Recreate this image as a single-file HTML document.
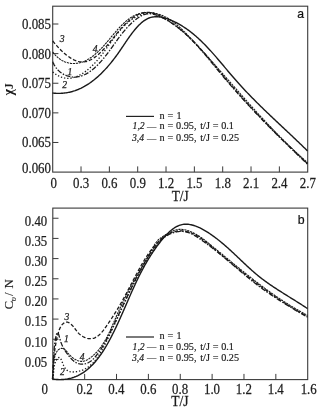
<!DOCTYPE html>
<html lang="en"><head><meta charset="utf-8"><title>Figure</title>
<style>html,body{margin:0;padding:0;background:#fff}svg{display:block}</style></head>
<body>
<svg width="320" height="412" viewBox="0 0 320 412">
<rect width="320" height="412" fill="#fff"/>
<rect x="52.7" y="6.2" width="255" height="165.9" fill="none" stroke="#3a3a3a" stroke-width="1.1"/>
<rect x="52.8" y="208.1" width="254.9" height="171.5" fill="none" stroke="#3a3a3a" stroke-width="1.1"/>
<path d="M81.03 172.10 v-5.7 M109.37 172.10 v-5.7 M137.70 172.10 v-5.7 M166.03 172.10 v-5.7 M194.37 172.10 v-5.7 M222.70 172.10 v-5.7 M251.03 172.10 v-5.7 M279.37 172.10 v-5.7 M52.70 142.48 h5.7 M52.70 112.86 h5.7 M52.70 83.24 h5.7 M52.70 53.62 h5.7 M52.70 24.00 h5.7 M84.66 379.60 v-5.7 M116.52 379.60 v-5.7 M148.39 379.60 v-5.7 M180.25 379.60 v-5.7 M212.11 379.60 v-5.7 M243.97 379.60 v-5.7 M275.84 379.60 v-5.7 M52.80 359.43 h5.7 M52.80 339.26 h5.7 M52.80 319.09 h5.7 M52.80 298.92 h5.7 M52.80 278.75 h5.7 M52.80 258.58 h5.7 M52.80 238.41 h5.7 M52.80 218.24 h5.7" stroke="#3a3a3a" stroke-width="1" fill="none"/>
<g font-family="'Liberation Serif', serif" font-size="15" fill="#1c1c1c" stroke="#1c1c1c" stroke-width="0.25">
<text transform="translate(51.00 172.90) scale(0.86 1)" text-anchor="end">0.060</text>
<text transform="translate(51.00 147.38) scale(0.86 1)" text-anchor="end">0.065</text>
<text transform="translate(51.00 117.76) scale(0.86 1)" text-anchor="end">0.070</text>
<text transform="translate(51.00 88.14) scale(0.86 1)" text-anchor="end">0.075</text>
<text transform="translate(51.00 58.52) scale(0.86 1)" text-anchor="end">0.080</text>
<text transform="translate(51.00 28.90) scale(0.86 1)" text-anchor="end">0.085</text>
<text transform="translate(53.60 188.10) scale(0.86 1)" text-anchor="middle">0</text>
<text transform="translate(81.13 188.10) scale(0.86 1)" text-anchor="middle">0.3</text>
<text transform="translate(109.47 188.10) scale(0.86 1)" text-anchor="middle">0.6</text>
<text transform="translate(137.80 188.10) scale(0.86 1)" text-anchor="middle">0.9</text>
<text transform="translate(166.13 188.10) scale(0.86 1)" text-anchor="middle">1.2</text>
<text transform="translate(194.47 188.10) scale(0.86 1)" text-anchor="middle">1.5</text>
<text transform="translate(222.80 188.10) scale(0.86 1)" text-anchor="middle">1.8</text>
<text transform="translate(251.13 188.10) scale(0.86 1)" text-anchor="middle">2.1</text>
<text transform="translate(279.47 188.10) scale(0.86 1)" text-anchor="middle">2.4</text>
<text transform="translate(307.80 188.10) scale(0.86 1)" text-anchor="middle">2.7</text>
<text transform="translate(47.20 366.73) scale(0.9 1)" text-anchor="end" font-size="14.2">0.05</text>
<text transform="translate(47.20 346.56) scale(0.9 1)" text-anchor="end" font-size="14.2">0.10</text>
<text transform="translate(47.20 326.39) scale(0.9 1)" text-anchor="end" font-size="14.2">0.15</text>
<text transform="translate(47.20 306.22) scale(0.9 1)" text-anchor="end" font-size="14.2">0.20</text>
<text transform="translate(47.20 286.05) scale(0.9 1)" text-anchor="end" font-size="14.2">0.25</text>
<text transform="translate(47.20 265.88) scale(0.9 1)" text-anchor="end" font-size="14.2">0.30</text>
<text transform="translate(47.20 245.71) scale(0.9 1)" text-anchor="end" font-size="14.2">0.35</text>
<text transform="translate(47.20 225.54) scale(0.9 1)" text-anchor="end" font-size="14.2">0.40</text>
<text transform="translate(44.80 393.90) scale(0.86 1)" text-anchor="middle">0</text>
<text transform="translate(84.56 393.90) scale(0.86 1)" text-anchor="middle">0.2</text>
<text transform="translate(116.42 393.90) scale(0.86 1)" text-anchor="middle">0.4</text>
<text transform="translate(148.29 393.90) scale(0.86 1)" text-anchor="middle">0.6</text>
<text transform="translate(180.15 393.90) scale(0.86 1)" text-anchor="middle">0.8</text>
<text transform="translate(212.01 393.90) scale(0.86 1)" text-anchor="middle">1.0</text>
<text transform="translate(243.87 393.90) scale(0.86 1)" text-anchor="middle">1.2</text>
<text transform="translate(275.74 393.90) scale(0.86 1)" text-anchor="middle">1.4</text>
<text transform="translate(308.70 393.90) scale(0.86 1)" text-anchor="middle">1.6</text>
<text transform="translate(180.2 200.6) scale(0.96 1)" text-anchor="middle" font-size="13.8">T/J</text>
<text transform="translate(179.9 405.9) scale(0.95 1)" text-anchor="middle" font-size="14.3">T/J</text>
<text transform="translate(12.6 95.5) rotate(-90)" font-size="14" font-weight="bold" stroke="none">χ<tspan font-size="11.5">J</tspan></text>
<text transform="translate(13.3 309.2) rotate(-90)" font-size="12.6" stroke-width="0.12"><tspan x="0">C</tspan><tspan font-size="9" x="7.9" dy="2.5" font-style="italic">υ</tspan><tspan x="13.2" dy="-2.5">/</tspan><tspan x="20.6" font-size="13">N</tspan></text>
</g>
<g font-family="'Liberation Sans', sans-serif" font-size="14" fill="#111">
<text x="297.2" y="18.4" font-size="12.2" stroke="#111" stroke-width="0.2">a</text><text x="297.7" y="223.9" font-size="12.3" stroke="#111" stroke-width="0.2">b</text>
</g>
<g font-family="'Liberation Serif', serif" font-size="10.2" fill="#1c1c1c" stroke="#1c1c1c" stroke-width="0.18">
<path d="M126 116.4 H154" stroke="#222" stroke-width="1.2"/>
<text transform="translate(0 118.6) scale(1 1.07)"><tspan x="159.4">n</tspan><tspan x="167.6">=</tspan><tspan x="176.6">1</tspan></text>
<text transform="translate(0 129.3) scale(1 1.07)" x="132.6" font-style="italic" font-size="9.7">1,2</text>
<text transform="translate(0 129.3) scale(1 1.07)"><tspan x="147" font-size="9.3" dy="0.6">—</tspan><tspan x="159.4" dy="-0.6">n</tspan><tspan x="167.6">=</tspan><tspan x="176.1">0.95,</tspan><tspan x="200.3">t/J</tspan><tspan x="212.8">=</tspan><tspan x="221.2">0.1</tspan></text>
<text transform="translate(0 141.2) scale(1 1.07)" x="132" font-style="italic" font-size="9.7">3,4</text>
<text transform="translate(0 141.2) scale(1 1.07)"><tspan x="147" font-size="9.3" dy="0.6">—</tspan><tspan x="159.4" dy="-0.6">n</tspan><tspan x="167.6">=</tspan><tspan x="176.1">0.95,</tspan><tspan x="200.3">t/J</tspan><tspan x="212.8">=</tspan><tspan x="221.2">0.25</tspan></text>
</g>
<g font-family="'Liberation Serif', serif" font-size="10.2" fill="#1c1c1c" stroke="#1c1c1c" stroke-width="0.18">
<path d="M126 337 H154" stroke="#222" stroke-width="1.2"/>
<text transform="translate(0 339.2) scale(1 1.07)"><tspan x="159.4">n</tspan><tspan x="167.6">=</tspan><tspan x="176.6">1</tspan></text>
<text transform="translate(0 349.8) scale(1 1.07)" x="132.6" font-style="italic" font-size="9.7">1,2</text>
<text transform="translate(0 349.8) scale(1 1.07)"><tspan x="147" font-size="9.3" dy="0.6">—</tspan><tspan x="159.4" dy="-0.6">n</tspan><tspan x="167.6">=</tspan><tspan x="176.1">0.95,</tspan><tspan x="200.3">t/J</tspan><tspan x="212.8">=</tspan><tspan x="221.2">0.1</tspan></text>
<text transform="translate(0 360.5) scale(1 1.07)" x="132" font-style="italic" font-size="9.7">3,4</text>
<text transform="translate(0 360.5) scale(1 1.07)"><tspan x="147" font-size="9.3" dy="0.6">—</tspan><tspan x="159.4" dy="-0.6">n</tspan><tspan x="167.6">=</tspan><tspan x="176.1">0.95,</tspan><tspan x="200.3">t/J</tspan><tspan x="212.8">=</tspan><tspan x="221.2">0.25</tspan></text>
</g>
<g fill="none" stroke="#1a1a1a" stroke-linecap="butt" stroke-linejoin="round">
<path d="M52.50 93.00 L53.50 93.11 L54.49 93.21 L55.49 93.28 L56.49 93.34 L57.50 93.37 L58.50 93.39 L59.50 93.38 L60.50 93.36 L61.50 93.31 L62.50 93.24 L63.50 93.16 L64.50 93.05 L65.49 92.92 L66.49 92.78 L67.47 92.61 L68.46 92.42 L69.44 92.21 L70.42 91.99 L71.39 91.74 L72.35 91.48 L73.32 91.19 L74.27 90.89 L75.22 90.57 L76.16 90.23 L77.10 89.87 L78.03 89.50 L78.95 89.11 L79.87 88.70 L80.78 88.28 L81.68 87.84 L82.58 87.39 L83.46 86.92 L84.34 86.44 L85.21 85.94 L86.08 85.43 L86.93 84.91 L87.78 84.37 L88.62 83.83 L89.45 83.27 L90.27 82.70 L91.09 82.12 L91.90 81.52 L92.70 80.92 L93.49 80.31 L94.28 79.69 L95.06 79.05 L95.83 78.41 L96.59 77.76 L97.35 77.11 L98.10 76.44 L98.84 75.77 L99.58 75.09 L100.31 74.40 L101.03 73.70 L101.74 73.00 L102.45 72.29 L103.15 71.58 L103.85 70.85 L104.54 70.13 L105.22 69.39 L105.90 68.65 L106.57 67.91 L107.24 67.16 L107.90 66.41 L108.55 65.65 L109.20 64.88 L109.85 64.12 L110.49 63.34 L111.12 62.57 L111.75 61.79 L112.37 61.00 L112.99 60.21 L113.60 59.42 L114.21 58.62 L114.82 57.83 L115.42 57.02 L116.02 56.22 L116.61 55.41 L117.20 54.60 L117.78 53.78 L118.36 52.97 L118.94 52.15 L119.51 51.32 L120.08 50.50 L120.65 49.67 L121.21 48.84 L121.77 48.01 L122.33 47.18 L122.89 46.35 L123.45 45.52 L124.01 44.68 L124.57 43.85 L125.12 43.02 L125.68 42.19 L126.25 41.36 L126.81 40.53 L127.38 39.70 L127.95 38.88 L128.53 38.06 L129.10 37.24 L129.69 36.42 L130.28 35.61 L130.87 34.80 L131.47 34.00 L132.07 33.20 L132.69 32.41 L133.30 31.62 L133.93 30.83 L134.56 30.05 L135.20 29.28 L135.85 28.52 L136.51 27.76 L137.18 27.02 L137.86 26.28 L138.55 25.56 L139.25 24.84 L139.97 24.14 L140.70 23.46 L141.45 22.79 L142.22 22.15 L143.00 21.52 L143.80 20.92 L144.63 20.35 L145.47 19.80 L146.33 19.29 L147.21 18.82 L148.12 18.39 L149.04 18.00 L149.99 17.67 L150.95 17.39 L151.93 17.16 L152.91 16.98 L153.91 16.84 L154.91 16.76 L155.91 16.72 L156.91 16.72 L157.91 16.77 L158.91 16.85 L159.91 16.97 L160.90 17.12 L161.88 17.30 L162.86 17.51 L163.84 17.74 L164.80 18.00 L165.77 18.29 L166.72 18.59 L167.67 18.92 L168.61 19.26 L169.55 19.62 L170.48 19.99 L171.40 20.38 L172.32 20.78 L173.23 21.19 L174.14 21.62 L175.04 22.05 L175.94 22.50 L176.83 22.96 L177.72 23.43 L178.60 23.91 L179.47 24.40 L180.34 24.90 L181.20 25.41 L182.06 25.94 L182.91 26.47 L183.75 27.01 L184.59 27.56 L185.42 28.12 L186.25 28.68 L187.07 29.26 L187.89 29.84 L188.69 30.43 L189.50 31.03 L190.29 31.64 L191.09 32.26 L191.87 32.88 L192.65 33.51 L193.43 34.14 L194.20 34.78 L194.96 35.43 L195.72 36.09 L196.48 36.75 L197.23 37.41 L197.97 38.08 L198.71 38.76 L199.45 39.44 L200.18 40.13 L200.90 40.82 L201.62 41.52 L202.34 42.22 L203.05 42.92 L203.76 43.63 L204.47 44.34 L205.17 45.06 L205.87 45.78 L206.56 46.50 L207.25 47.23 L207.94 47.96 L208.63 48.69 L209.31 49.42 L209.98 50.16 L210.66 50.90 L211.33 51.65 L212.00 52.39 L212.67 53.14 L213.34 53.89 L214.00 54.64 L214.66 55.39 L215.32 56.15 L215.98 56.91 L216.63 57.66 L217.29 58.42 L217.94 59.19 L218.59 59.95 L219.24 60.71 L219.89 61.48 L220.54 62.24 L221.18 63.01 L221.83 63.77 L222.47 64.54 L223.12 65.31 L223.76 66.07 L224.41 66.84 L225.05 67.61 L225.70 68.38 L226.34 69.15 L226.99 69.91 L227.63 70.68 L228.28 71.45 L228.92 72.21 L229.57 72.98 L230.22 73.74 L230.87 74.51 L231.52 75.27 L232.17 76.03 L232.82 76.79 L233.48 77.55 L234.13 78.31 L234.79 79.07 L235.45 79.82 L236.11 80.57 L236.78 81.33 L237.44 82.08 L238.11 82.82 L238.78 83.57 L239.45 84.31 L240.12 85.06 L240.80 85.80 L241.48 86.54 L242.16 87.27 L242.84 88.01 L243.52 88.74 L244.20 89.47 L244.89 90.21 L245.58 90.94 L246.27 91.66 L246.96 92.39 L247.65 93.11 L248.34 93.84 L249.04 94.56 L249.74 95.28 L250.44 96.00 L251.14 96.72 L251.84 97.43 L252.54 98.15 L253.24 98.86 L253.95 99.57 L254.65 100.29 L255.36 101.00 L256.07 101.70 L256.78 102.41 L257.49 103.12 L258.20 103.82 L258.92 104.53 L259.63 105.23 L260.35 105.93 L261.06 106.64 L261.78 107.34 L262.50 108.04 L263.22 108.73 L263.94 109.43 L264.66 110.13 L265.38 110.82 L266.10 111.52 L266.82 112.21 L267.55 112.91 L268.27 113.60 L269.00 114.29 L269.72 114.99 L270.45 115.68 L271.17 116.37 L271.90 117.06 L272.63 117.75 L273.36 118.44 L274.08 119.13 L274.81 119.81 L275.54 120.50 L276.27 121.19 L277.00 121.88 L277.73 122.56 L278.46 123.25 L279.19 123.94 L279.92 124.63 L280.65 125.31 L281.38 126.00 L282.11 126.68 L282.84 127.37 L283.57 128.06 L284.31 128.74 L285.04 129.43 L285.77 130.12 L286.50 130.80 L287.23 131.49 L287.96 132.18 L288.69 132.86 L289.42 133.55 L290.15 134.24 L290.88 134.93 L291.60 135.61 L292.33 136.30 L293.06 136.99 L293.79 137.68 L294.52 138.37 L295.24 139.06 L295.97 139.75 L296.69 140.44 L297.42 141.14 L298.14 141.83 L298.87 142.52 L299.59 143.22 L300.31 143.91 L301.04 144.61 L301.76 145.30 L302.48 146.00 L303.20 146.70 L303.92 147.40 L304.64 148.09 L305.35 148.79 L306.07 149.50 L306.79 150.20 L307.50 150.90" stroke-width="1.4"/>
<path d="M52.80 41.00 L53.42 41.78 L54.06 42.56 L54.69 43.33 L55.34 44.10 L55.99 44.86 L56.65 45.61 L57.32 46.36 L57.99 47.10 L58.67 47.83 L59.36 48.56 L60.06 49.28 L60.76 49.99 L61.48 50.69 L62.20 51.38 L62.93 52.06 L63.68 52.74 L64.43 53.40 L65.19 54.05 L65.96 54.68 L66.75 55.31 L67.54 55.91 L68.35 56.51 L69.17 57.08 L70.00 57.64 L70.85 58.17 L71.71 58.68 L72.58 59.17 L73.47 59.63 L74.38 60.06 L75.30 60.46 L76.23 60.82 L77.18 61.14 L78.14 61.41 L79.12 61.64 L80.10 61.81 L81.10 61.92 L82.10 61.97 L83.10 61.95 L84.10 61.86 L85.09 61.72 L86.07 61.52 L87.03 61.26 L87.99 60.95 L88.92 60.59 L89.84 60.20 L90.75 59.76 L91.63 59.30 L92.50 58.80 L93.35 58.27 L94.18 57.72 L95.00 57.14 L95.81 56.55 L96.60 55.93 L97.38 55.30 L98.14 54.65 L98.89 53.99 L99.63 53.32 L100.36 52.63 L101.08 51.94 L101.79 51.23 L102.49 50.52 L103.19 49.79 L103.87 49.06 L104.55 48.32 L105.22 47.58 L105.88 46.83 L106.54 46.08 L107.19 45.32 L107.84 44.55 L108.48 43.79 L109.12 43.02 L109.76 42.24 L110.39 41.47 L111.02 40.69 L111.65 39.91 L112.28 39.13 L112.90 38.35 L113.53 37.57 L114.15 36.78 L114.78 36.00 L115.41 35.22 L116.04 34.44 L116.67 33.67 L117.30 32.89 L117.94 32.12 L118.58 31.35 L119.23 30.59 L119.89 29.83 L120.54 29.08 L121.21 28.33 L121.88 27.59 L122.56 26.85 L123.25 26.13 L123.95 25.41 L124.66 24.70 L125.37 24.00 L126.09 23.30 L126.82 22.62 L127.57 21.95 L128.32 21.29 L129.08 20.63 L129.85 19.99 L130.63 19.36 L131.42 18.75 L132.22 18.15 L133.03 17.57 L133.86 17.00 L134.70 16.45 L135.55 15.93 L136.41 15.43 L137.29 14.95 L138.19 14.50 L139.10 14.08 L140.02 13.70 L140.96 13.35 L141.92 13.05 L142.89 12.80 L143.87 12.59 L144.86 12.45 L145.85 12.36 L146.85 12.32 L147.86 12.34 L148.85 12.40 L149.85 12.52 L150.84 12.68 L151.82 12.88 L152.79 13.11 L153.75 13.39 L154.71 13.69 L155.65 14.02 L156.59 14.38 L157.51 14.77 L158.43 15.17 L159.34 15.59 L160.23 16.03 L161.13 16.49 L162.01 16.96 L162.89 17.44 L163.76 17.94 L164.62 18.44 L165.49 18.95 L166.34 19.47 L167.20 19.99 L168.04 20.52 L168.89 21.06 L169.73 21.61 L170.56 22.16 L171.39 22.73 L172.21 23.29 L173.03 23.87 L173.85 24.45 L174.66 25.04 L175.46 25.63 L176.26 26.23 L177.06 26.84 L177.85 27.45 L178.64 28.07 L179.42 28.70 L180.20 29.33 L180.98 29.96 L181.74 30.60 L182.51 31.25 L183.27 31.90 L184.03 32.56 L184.78 33.22 L185.53 33.88 L186.27 34.55 L187.01 35.23 L187.75 35.91 L188.48 36.59 L189.21 37.28 L189.93 37.97 L190.65 38.66 L191.37 39.36 L192.08 40.07 L192.79 40.77 L193.50 41.48 L194.20 42.19 L194.90 42.91 L195.59 43.63 L196.29 44.35 L196.98 45.08 L197.66 45.81 L198.35 46.54 L199.03 47.27 L199.71 48.01 L200.38 48.75 L201.06 49.49 L201.73 50.23 L202.40 50.98 L203.06 51.72 L203.73 52.47 L204.39 53.23 L205.05 53.98 L205.71 54.73 L206.36 55.49 L207.02 56.25 L207.67 57.01 L208.32 57.77 L208.97 58.53 L209.61 59.30 L210.26 60.06 L210.91 60.83 L211.55 61.59 L212.19 62.36 L212.83 63.13 L213.47 63.90 L214.11 64.67 L214.75 65.44 L215.39 66.21 L216.03 66.98 L216.67 67.76 L217.30 68.53 L217.94 69.30 L218.58 70.07 L219.21 70.85 L219.85 71.62 L220.49 72.39 L221.12 73.17 L221.76 73.94 L222.40 74.71 L223.03 75.48 L223.67 76.25 L224.31 77.03 L224.95 77.80 L225.59 78.57 L226.23 79.33 L226.87 80.10 L227.52 80.87 L228.16 81.64 L228.81 82.40 L229.45 83.17 L230.10 83.93 L230.75 84.69 L231.40 85.45 L232.05 86.21 L232.70 86.97 L233.36 87.73 L234.01 88.49 L234.67 89.25 L235.32 90.00 L235.98 90.76 L236.64 91.51 L237.30 92.27 L237.96 93.02 L238.62 93.77 L239.29 94.52 L239.95 95.27 L240.62 96.02 L241.28 96.76 L241.95 97.51 L242.62 98.26 L243.29 99.00 L243.96 99.74 L244.63 100.49 L245.30 101.23 L245.97 101.97 L246.65 102.71 L247.32 103.45 L248.00 104.19 L248.68 104.93 L249.35 105.66 L250.03 106.40 L250.71 107.13 L251.39 107.87 L252.07 108.60 L252.76 109.33 L253.44 110.07 L254.13 110.80 L254.81 111.53 L255.50 112.26 L256.18 112.98 L256.87 113.71 L257.56 114.44 L258.25 115.17 L258.94 115.89 L259.63 116.61 L260.32 117.34 L261.02 118.06 L261.71 118.78 L262.41 119.50 L263.10 120.22 L263.80 120.94 L264.49 121.66 L265.19 122.38 L265.89 123.10 L266.59 123.81 L267.29 124.53 L267.99 125.25 L268.69 125.96 L269.39 126.67 L270.10 127.39 L270.80 128.10 L271.51 128.81 L272.21 129.52 L272.92 130.23 L273.62 130.94 L274.33 131.65 L275.04 132.36 L275.75 133.06 L276.46 133.77 L277.17 134.48 L277.88 135.18 L278.59 135.89 L279.30 136.59 L280.01 137.29 L280.73 138.00 L281.44 138.70 L282.16 139.40 L282.87 140.10 L283.59 140.80 L284.30 141.50 L285.02 142.20 L285.74 142.90 L286.46 143.59 L287.17 144.29 L287.89 144.99 L288.61 145.68 L289.33 146.38 L290.05 147.07 L290.78 147.77 L291.50 148.46 L292.22 149.16 L292.94 149.85 L293.67 150.54 L294.39 151.23 L295.11 151.92 L295.84 152.61 L296.57 153.30 L297.29 153.99 L298.02 154.68 L298.74 155.37 L299.47 156.06 L300.20 156.75 L300.93 157.44 L301.66 158.12 L302.39 158.81 L303.11 159.49 L303.84 160.18 L304.57 160.86 L305.31 161.55 L306.04 162.23 L306.77 162.92 L307.50 163.60" stroke-width="1.3" stroke-dasharray="3.6 1.9"/>
<path d="M52.80 52.00 L53.40 52.80 L54.02 53.59 L54.66 54.36 L55.32 55.10 L56.02 55.83 L56.73 56.53 L57.47 57.20 L58.23 57.85 L59.01 58.47 L59.82 59.06 L60.65 59.62 L61.50 60.15 L62.37 60.64 L63.26 61.10 L64.17 61.52 L65.10 61.90 L66.04 62.24 L66.99 62.54 L67.96 62.80 L68.93 63.02 L69.92 63.20 L70.91 63.34 L71.91 63.44 L72.91 63.49 L73.91 63.51 L74.91 63.48 L75.90 63.42 L76.90 63.31 L77.89 63.17 L78.87 62.99 L79.85 62.77 L80.82 62.52 L81.78 62.23 L82.72 61.91 L83.66 61.55 L84.58 61.17 L85.49 60.75 L86.39 60.31 L87.27 59.84 L88.14 59.35 L89.00 58.83 L89.85 58.29 L90.68 57.73 L91.49 57.16 L92.30 56.56 L93.09 55.95 L93.88 55.33 L94.65 54.69 L95.41 54.04 L96.16 53.38 L96.90 52.71 L97.63 52.03 L98.35 51.33 L99.07 50.63 L99.78 49.93 L100.48 49.21 L101.17 48.49 L101.86 47.76 L102.54 47.03 L103.21 46.29 L103.89 45.55 L104.55 44.80 L105.21 44.05 L105.87 43.30 L106.53 42.54 L107.18 41.78 L107.83 41.02 L108.48 40.26 L109.12 39.50 L109.77 38.73 L110.41 37.97 L111.06 37.20 L111.70 36.43 L112.35 35.67 L112.99 34.90 L113.64 34.14 L114.29 33.38 L114.94 32.62 L115.60 31.86 L116.25 31.11 L116.91 30.36 L117.58 29.61 L118.25 28.87 L118.93 28.13 L119.61 27.40 L120.30 26.67 L120.99 25.95 L121.69 25.24 L122.41 24.54 L123.12 23.84 L123.85 23.15 L124.59 22.48 L125.34 21.81 L126.10 21.16 L126.87 20.52 L127.65 19.90 L128.44 19.29 L129.25 18.70 L130.07 18.12 L130.90 17.57 L131.75 17.04 L132.61 16.53 L133.49 16.04 L134.38 15.59 L135.28 15.16 L136.20 14.75 L137.13 14.38 L138.07 14.05 L139.02 13.74 L139.99 13.48 L140.96 13.24 L141.94 13.04 L142.93 12.87 L143.92 12.74 L144.91 12.64 L145.91 12.57 L146.91 12.52 L147.91 12.51 L148.91 12.53 L149.91 12.58 L150.91 12.66 L151.91 12.76 L152.90 12.89 L153.89 13.05 L154.87 13.24 L155.85 13.45 L156.82 13.68 L157.79 13.94 L158.75 14.23 L159.70 14.54 L160.64 14.87 L161.58 15.23 L162.50 15.61 L163.42 16.01 L164.32 16.43 L165.22 16.88 L166.11 17.34 L166.98 17.82 L167.85 18.32 L168.71 18.84 L169.55 19.37 L170.39 19.92 L171.22 20.48 L172.04 21.06 L172.85 21.65 L173.65 22.25 L174.44 22.86 L175.23 23.48 L176.00 24.11 L176.77 24.75 L177.53 25.40 L178.29 26.06 L179.03 26.72 L179.78 27.39 L180.51 28.07 L181.24 28.76 L181.97 29.45 L182.69 30.14 L183.40 30.84 L184.11 31.55 L184.82 32.26 L185.52 32.97 L186.22 33.68 L186.92 34.40 L187.61 35.12 L188.30 35.84 L188.99 36.57 L189.68 37.29 L190.37 38.02 L191.06 38.75 L191.74 39.48 L192.43 40.21 L193.11 40.94 L193.79 41.67 L194.48 42.40 L195.16 43.13 L195.84 43.87 L196.52 44.60 L197.20 45.34 L197.88 46.07 L198.55 46.81 L199.23 47.55 L199.91 48.28 L200.58 49.02 L201.26 49.76 L201.93 50.50 L202.60 51.24 L203.28 51.98 L203.95 52.72 L204.62 53.47 L205.29 54.21 L205.96 54.95 L206.63 55.70 L207.30 56.44 L207.97 57.18 L208.63 57.93 L209.30 58.68 L209.97 59.42 L210.63 60.17 L211.30 60.92 L211.96 61.66 L212.63 62.41 L213.29 63.16 L213.96 63.91 L214.62 64.66 L215.28 65.41 L215.95 66.16 L216.61 66.91 L217.27 67.66 L217.93 68.41 L218.60 69.16 L219.26 69.91 L219.92 70.66 L220.58 71.41 L221.24 72.16 L221.90 72.91 L222.56 73.67 L223.22 74.42 L223.88 75.17 L224.54 75.92 L225.20 76.68 L225.86 77.43 L226.52 78.18 L227.18 78.93 L227.84 79.68 L228.50 80.44 L229.16 81.19 L229.82 81.94 L230.48 82.69 L231.14 83.45 L231.80 84.20 L232.46 84.95 L233.12 85.70 L233.78 86.45 L234.44 87.21 L235.10 87.96 L235.76 88.71 L236.42 89.46 L237.08 90.21 L237.75 90.96 L238.41 91.71 L239.07 92.46 L239.73 93.21 L240.39 93.96 L241.06 94.71 L241.72 95.46 L242.38 96.21 L243.05 96.96 L243.71 97.71 L244.38 98.46 L245.04 99.20 L245.71 99.95 L246.37 100.70 L247.04 101.45 L247.70 102.19 L248.37 102.94 L249.04 103.68 L249.71 104.43 L250.38 105.17 L251.05 105.92 L251.71 106.66 L252.39 107.40 L253.06 108.15 L253.73 108.89 L254.40 109.63 L255.07 110.37 L255.74 111.11 L256.42 111.85 L257.09 112.59 L257.77 113.33 L258.44 114.07 L259.12 114.80 L259.80 115.54 L260.48 116.28 L261.15 117.01 L261.83 117.75 L262.51 118.48 L263.19 119.21 L263.88 119.95 L264.56 120.68 L265.24 121.41 L265.93 122.14 L266.61 122.87 L267.30 123.60 L267.98 124.33 L268.67 125.05 L269.36 125.78 L270.05 126.50 L270.74 127.23 L271.43 127.95 L272.12 128.68 L272.82 129.40 L273.51 130.12 L274.20 130.84 L274.90 131.56 L275.60 132.27 L276.30 132.99 L277.00 133.71 L277.70 134.42 L278.40 135.14 L279.10 135.85 L279.80 136.56 L280.51 137.27 L281.21 137.98 L281.92 138.69 L282.63 139.39 L283.34 140.10 L284.05 140.80 L284.76 141.51 L285.47 142.21 L286.19 142.91 L286.90 143.61 L287.62 144.31 L288.34 145.01 L289.06 145.70 L289.78 146.40 L290.50 147.09 L291.22 147.78 L291.95 148.47 L292.67 149.16 L293.40 149.85 L294.13 150.53 L294.86 151.22 L295.59 151.90 L296.32 152.58 L297.06 153.26 L297.80 153.94 L298.53 154.61 L299.27 155.29 L300.01 155.96 L300.75 156.63 L301.50 157.30 L302.24 157.97 L302.99 158.64 L303.74 159.30 L304.49 159.97 L305.24 160.63 L305.99 161.29 L306.74 161.94 L307.50 162.60" stroke-width="1.1" stroke-dasharray="2.2 0.8"/>
<path d="M52.80 61.80 L53.16 62.73 L53.56 63.65 L54.00 64.55 L54.48 65.43 L55.00 66.28 L55.55 67.12 L56.14 67.93 L56.76 68.71 L57.42 69.46 L58.11 70.19 L58.83 70.88 L59.58 71.54 L60.36 72.17 L61.16 72.77 L61.99 73.33 L62.84 73.86 L63.72 74.35 L64.61 74.80 L65.52 75.21 L66.45 75.58 L67.39 75.92 L68.35 76.21 L69.32 76.47 L70.29 76.68 L71.28 76.84 L72.27 76.97 L73.27 77.04 L74.27 77.08 L75.27 77.06 L76.27 77.00 L77.27 76.89 L78.25 76.73 L79.23 76.53 L80.21 76.29 L81.17 76.01 L82.11 75.69 L83.05 75.33 L83.97 74.95 L84.88 74.53 L85.77 74.08 L86.65 73.60 L87.52 73.10 L88.37 72.58 L89.21 72.03 L90.04 71.47 L90.85 70.88 L91.65 70.28 L92.44 69.66 L93.21 69.03 L93.98 68.38 L94.73 67.72 L95.47 67.05 L96.20 66.37 L96.92 65.67 L97.63 64.97 L98.34 64.26 L99.03 63.54 L99.71 62.81 L100.39 62.07 L101.06 61.33 L101.72 60.57 L102.38 59.82 L103.02 59.05 L103.66 58.29 L104.30 57.51 L104.93 56.73 L105.55 55.95 L106.17 55.16 L106.78 54.37 L107.39 53.58 L107.99 52.78 L108.59 51.98 L109.19 51.18 L109.78 50.37 L110.37 49.56 L110.96 48.75 L111.54 47.94 L112.13 47.12 L112.71 46.31 L113.29 45.49 L113.87 44.68 L114.45 43.86 L115.03 43.05 L115.61 42.23 L116.19 41.42 L116.78 40.61 L117.36 39.80 L117.95 38.99 L118.54 38.18 L119.14 37.38 L119.74 36.57 L120.34 35.78 L120.95 34.98 L121.56 34.19 L122.18 33.41 L122.81 32.62 L123.44 31.85 L124.08 31.08 L124.72 30.31 L125.37 29.55 L126.03 28.80 L126.70 28.06 L127.38 27.32 L128.06 26.59 L128.76 25.87 L129.46 25.15 L130.17 24.45 L130.89 23.75 L131.62 23.07 L132.36 22.39 L133.10 21.73 L133.86 21.07 L134.63 20.43 L135.40 19.80 L136.19 19.18 L136.99 18.59 L137.81 18.00 L138.64 17.44 L139.48 16.91 L140.34 16.40 L141.22 15.92 L142.12 15.47 L143.03 15.06 L143.96 14.69 L144.91 14.37 L145.87 14.10 L146.85 13.90 L147.84 13.76 L148.84 13.69 L149.84 13.69 L150.84 13.76 L151.83 13.89 L152.81 14.08 L153.79 14.31 L154.75 14.58 L155.70 14.89 L156.64 15.23 L157.58 15.59 L158.50 15.97 L159.42 16.37 L160.33 16.78 L161.24 17.20 L162.14 17.64 L163.04 18.08 L163.93 18.54 L164.81 19.00 L165.69 19.48 L166.57 19.97 L167.43 20.47 L168.30 20.97 L169.15 21.49 L170.00 22.02 L170.85 22.55 L171.69 23.10 L172.52 23.65 L173.35 24.22 L174.17 24.79 L174.99 25.37 L175.80 25.95 L176.60 26.55 L177.40 27.15 L178.19 27.76 L178.98 28.38 L179.76 29.00 L180.54 29.63 L181.31 30.27 L182.08 30.92 L182.84 31.57 L183.59 32.22 L184.34 32.88 L185.09 33.55 L185.83 34.22 L186.57 34.90 L187.30 35.59 L188.02 36.27 L188.75 36.97 L189.46 37.66 L190.18 38.37 L190.89 39.07 L191.59 39.78 L192.29 40.49 L192.99 41.21 L193.68 41.93 L194.37 42.66 L195.06 43.39 L195.74 44.12 L196.42 44.85 L197.10 45.59 L197.77 46.33 L198.44 47.07 L199.11 47.82 L199.78 48.56 L200.44 49.31 L201.10 50.07 L201.76 50.82 L202.41 51.58 L203.07 52.34 L203.72 53.10 L204.37 53.86 L205.01 54.62 L205.66 55.38 L206.30 56.15 L206.95 56.92 L207.59 57.68 L208.23 58.45 L208.87 59.22 L209.51 59.99 L210.14 60.77 L210.78 61.54 L211.41 62.31 L212.05 63.08 L212.69 63.86 L213.32 64.63 L213.95 65.40 L214.59 66.18 L215.22 66.95 L215.86 67.73 L216.49 68.50 L217.13 69.27 L217.77 70.04 L218.40 70.82 L219.04 71.59 L219.68 72.36 L220.32 73.13 L220.96 73.90 L221.60 74.66 L222.24 75.43 L222.89 76.20 L223.53 76.96 L224.18 77.73 L224.82 78.49 L225.47 79.25 L226.12 80.01 L226.77 80.78 L227.42 81.54 L228.07 82.30 L228.72 83.05 L229.38 83.81 L230.03 84.57 L230.69 85.33 L231.34 86.08 L232.00 86.84 L232.66 87.59 L233.32 88.34 L233.98 89.10 L234.64 89.85 L235.30 90.60 L235.96 91.35 L236.63 92.10 L237.29 92.84 L237.96 93.59 L238.62 94.34 L239.29 95.08 L239.96 95.83 L240.63 96.57 L241.30 97.32 L241.97 98.06 L242.64 98.80 L243.31 99.54 L243.99 100.28 L244.66 101.02 L245.34 101.76 L246.01 102.50 L246.69 103.23 L247.37 103.97 L248.05 104.70 L248.73 105.44 L249.41 106.17 L250.09 106.91 L250.77 107.64 L251.45 108.37 L252.14 109.10 L252.82 109.83 L253.51 110.56 L254.19 111.29 L254.88 112.02 L255.57 112.74 L256.25 113.47 L256.94 114.20 L257.63 114.92 L258.32 115.64 L259.02 116.37 L259.71 117.09 L260.40 117.81 L261.09 118.53 L261.79 119.25 L262.48 119.97 L263.18 120.69 L263.88 121.41 L264.57 122.13 L265.27 122.85 L265.97 123.56 L266.67 124.28 L267.37 124.99 L268.07 125.71 L268.77 126.42 L269.47 127.13 L270.18 127.85 L270.88 128.56 L271.58 129.27 L272.29 129.98 L272.99 130.69 L273.70 131.40 L274.41 132.11 L275.11 132.82 L275.82 133.52 L276.53 134.23 L277.24 134.94 L277.95 135.64 L278.66 136.35 L279.37 137.05 L280.08 137.75 L280.79 138.46 L281.51 139.16 L282.22 139.86 L282.93 140.56 L283.65 141.26 L284.36 141.96 L285.08 142.66 L285.80 143.36 L286.51 144.06 L287.23 144.76 L287.95 145.46 L288.66 146.15 L289.38 146.85 L290.10 147.54 L290.82 148.24 L291.54 148.93 L292.26 149.63 L292.98 150.32 L293.71 151.02 L294.43 151.71 L295.15 152.40 L295.87 153.09 L296.60 153.78 L297.32 154.47 L298.05 155.16 L298.77 155.85 L299.50 156.54 L300.22 157.23 L300.95 157.92 L301.67 158.61 L302.40 159.30 L303.13 159.99 L303.86 160.67 L304.58 161.36 L305.31 162.04 L306.04 162.73 L306.77 163.42 L307.50 164.10" stroke-width="1.3" stroke-dasharray="5 1.5 1.5 1.5"/>
<path d="M52.80 72.00 L53.56 72.65 L54.35 73.27 L55.16 73.86 L55.99 74.43 L56.83 74.96 L57.70 75.46 L58.59 75.93 L59.49 76.37 L60.41 76.76 L61.35 77.12 L62.30 77.44 L63.26 77.72 L64.24 77.95 L65.22 78.13 L66.22 78.27 L67.21 78.34 L68.22 78.37 L69.22 78.33 L70.22 78.25 L71.21 78.11 L72.19 77.92 L73.17 77.69 L74.13 77.42 L75.09 77.11 L76.03 76.77 L76.96 76.40 L77.88 75.99 L78.78 75.56 L79.67 75.10 L80.56 74.63 L81.43 74.13 L82.28 73.61 L83.13 73.08 L83.97 72.53 L84.80 71.96 L85.61 71.38 L86.42 70.78 L87.21 70.17 L87.99 69.54 L88.76 68.90 L89.52 68.24 L90.27 67.58 L91.01 66.90 L91.74 66.21 L92.46 65.51 L93.17 64.80 L93.87 64.09 L94.56 63.36 L95.24 62.62 L95.91 61.88 L96.57 61.13 L97.23 60.37 L97.88 59.61 L98.52 58.84 L99.16 58.07 L99.79 57.29 L100.41 56.50 L101.03 55.71 L101.65 54.92 L102.25 54.12 L102.86 53.33 L103.46 52.52 L104.06 51.72 L104.65 50.91 L105.24 50.10 L105.83 49.29 L106.42 48.48 L107.01 47.66 L107.59 46.85 L108.17 46.04 L108.76 45.22 L109.34 44.41 L109.93 43.59 L110.51 42.78 L111.10 41.97 L111.69 41.15 L112.28 40.34 L112.87 39.53 L113.46 38.73 L114.06 37.92 L114.66 37.12 L115.27 36.32 L115.88 35.53 L116.49 34.74 L117.11 33.95 L117.74 33.17 L118.37 32.39 L119.01 31.62 L119.66 30.85 L120.31 30.09 L120.97 29.33 L121.64 28.59 L122.32 27.85 L123.00 27.12 L123.70 26.40 L124.41 25.69 L125.12 24.99 L125.85 24.30 L126.59 23.62 L127.34 22.95 L128.10 22.30 L128.87 21.66 L129.65 21.03 L130.45 20.43 L131.26 19.83 L132.08 19.26 L132.91 18.70 L133.76 18.16 L134.62 17.65 L135.49 17.15 L136.37 16.67 L137.26 16.22 L138.17 15.79 L139.08 15.38 L140.01 15.00 L140.95 14.65 L141.90 14.32 L142.85 14.02 L143.82 13.75 L144.79 13.51 L145.77 13.31 L146.76 13.15 L147.76 13.02 L148.75 12.93 L149.76 12.88 L150.76 12.88 L151.76 12.92 L152.76 13.01 L153.75 13.15 L154.73 13.34 L155.71 13.58 L156.67 13.87 L157.61 14.21 L158.54 14.59 L159.44 15.03 L160.32 15.51 L161.17 16.03 L162.00 16.60" stroke-width="1.35" stroke-dasharray="1.3 1.9"/>
<path d="M52.50 379.00 L53.49 379.14 L54.49 379.27 L55.48 379.37 L56.48 379.46 L57.48 379.52 L58.48 379.57 L59.49 379.59 L60.49 379.59 L61.49 379.57 L62.49 379.53 L63.49 379.46 L64.49 379.37 L65.49 379.25 L66.48 379.11 L67.47 378.95 L68.46 378.76 L69.44 378.55 L70.41 378.32 L71.38 378.06 L72.34 377.77 L73.29 377.46 L74.24 377.13 L75.18 376.78 L76.11 376.40 L77.03 376.00 L77.93 375.58 L78.83 375.13 L79.72 374.67 L80.60 374.18 L81.47 373.68 L82.32 373.15 L83.16 372.61 L83.99 372.05 L84.81 371.47 L85.62 370.88 L86.42 370.27 L87.20 369.64 L87.97 369.01 L88.74 368.35 L89.48 367.69 L90.22 367.01 L90.95 366.32 L91.66 365.61 L92.37 364.90 L93.06 364.17 L93.74 363.44 L94.42 362.70 L95.08 361.94 L95.73 361.18 L96.37 360.41 L97.01 359.63 L97.63 358.85 L98.24 358.06 L98.85 357.26 L99.45 356.45 L100.04 355.64 L100.62 354.82 L101.19 354.00 L101.75 353.17 L102.31 352.34 L102.86 351.50 L103.41 350.66 L103.94 349.81 L104.48 348.96 L105.00 348.11 L105.52 347.25 L106.03 346.39 L106.54 345.52 L107.04 344.66 L107.53 343.78 L108.03 342.91 L108.51 342.03 L108.99 341.15 L109.47 340.27 L109.94 339.39 L110.41 338.50 L110.88 337.61 L111.34 336.72 L111.80 335.83 L112.25 334.94 L112.70 334.04 L113.15 333.14 L113.59 332.25 L114.04 331.35 L114.48 330.45 L114.91 329.54 L115.35 328.64 L115.78 327.74 L116.21 326.83 L116.64 325.92 L117.06 325.02 L117.49 324.11 L117.91 323.20 L118.33 322.29 L118.75 321.37 L119.16 320.46 L119.58 319.55 L119.99 318.63 L120.40 317.72 L120.81 316.81 L121.22 315.89 L121.62 314.97 L122.03 314.06 L122.43 313.14 L122.84 312.22 L123.24 311.30 L123.64 310.38 L124.04 309.46 L124.44 308.55 L124.84 307.63 L125.24 306.71 L125.64 305.79 L126.04 304.87 L126.44 303.95 L126.84 303.03 L127.24 302.11 L127.64 301.19 L128.04 300.27 L128.44 299.35 L128.84 298.43 L129.24 297.51 L129.64 296.59 L130.04 295.68 L130.45 294.76 L130.85 293.84 L131.26 292.92 L131.67 292.01 L132.07 291.09 L132.48 290.18 L132.90 289.26 L133.31 288.35 L133.72 287.44 L134.14 286.52 L134.56 285.61 L134.98 284.70 L135.40 283.79 L135.83 282.89 L136.26 281.98 L136.69 281.07 L137.12 280.17 L137.55 279.27 L137.99 278.36 L138.43 277.46 L138.88 276.56 L139.32 275.67 L139.77 274.77 L140.23 273.88 L140.68 272.98 L141.14 272.09 L141.60 271.20 L142.07 270.32 L142.54 269.43 L143.02 268.55 L143.49 267.67 L143.97 266.79 L144.46 265.91 L144.95 265.03 L145.44 264.16 L145.94 263.29 L146.44 262.42 L146.95 261.56 L147.46 260.69 L147.97 259.83 L148.49 258.97 L149.01 258.12 L149.54 257.27 L150.07 256.42 L150.61 255.57 L151.15 254.73 L151.70 253.89 L152.25 253.05 L152.80 252.21 L153.36 251.38 L153.93 250.55 L154.50 249.73 L155.07 248.91 L155.65 248.09 L156.24 247.27 L156.83 246.46 L157.42 245.66 L158.02 244.85 L158.62 244.05 L159.23 243.26 L159.85 242.46 L160.47 241.67 L161.09 240.89 L161.72 240.11 L162.36 239.34 L163.00 238.57 L163.65 237.80 L164.31 237.05 L164.98 236.30 L165.66 235.56 L166.34 234.83 L167.04 234.11 L167.75 233.40 L168.47 232.70 L169.20 232.01 L169.94 231.34 L170.70 230.69 L171.47 230.05 L172.26 229.43 L173.07 228.83 L173.89 228.26 L174.73 227.71 L175.58 227.19 L176.46 226.70 L177.35 226.24 L178.26 225.82 L179.19 225.45 L180.14 225.11 L181.10 224.83 L182.07 224.59 L183.06 224.42 L184.05 224.29 L185.05 224.22 L186.06 224.20 L187.06 224.23 L188.06 224.30 L189.06 224.41 L190.05 224.57 L191.03 224.76 L192.01 224.98 L192.98 225.24 L193.94 225.53 L194.89 225.84 L195.83 226.17 L196.77 226.53 L197.70 226.92 L198.62 227.32 L199.53 227.73 L200.43 228.17 L201.33 228.62 L202.22 229.09 L203.10 229.56 L203.97 230.05 L204.84 230.56 L205.70 231.07 L206.56 231.59 L207.40 232.12 L208.25 232.67 L209.09 233.21 L209.92 233.77 L210.75 234.33 L211.58 234.90 L212.40 235.48 L213.21 236.06 L214.03 236.65 L214.83 237.25 L215.64 237.85 L216.43 238.45 L217.23 239.06 L218.02 239.68 L218.81 240.30 L219.59 240.93 L220.37 241.56 L221.14 242.20 L221.91 242.84 L222.68 243.48 L223.45 244.13 L224.21 244.78 L224.97 245.44 L225.72 246.10 L226.47 246.76 L227.22 247.42 L227.97 248.09 L228.72 248.76 L229.46 249.44 L230.20 250.11 L230.94 250.79 L231.67 251.47 L232.41 252.16 L233.14 252.84 L233.87 253.53 L234.60 254.21 L235.33 254.90 L236.06 255.59 L236.79 256.28 L237.51 256.97 L238.24 257.66 L238.97 258.35 L239.69 259.04 L240.42 259.73 L241.15 260.43 L241.87 261.12 L242.60 261.81 L243.33 262.50 L244.06 263.18 L244.79 263.87 L245.52 264.56 L246.25 265.24 L246.98 265.93 L247.72 266.61 L248.46 267.29 L249.20 267.96 L249.94 268.64 L250.68 269.31 L251.43 269.98 L252.18 270.65 L252.93 271.31 L253.69 271.97 L254.44 272.62 L255.20 273.28 L255.97 273.93 L256.74 274.57 L257.51 275.21 L258.28 275.84 L259.06 276.48 L259.85 277.10 L260.64 277.72 L261.43 278.34 L262.22 278.95 L263.02 279.55 L263.82 280.15 L264.63 280.75 L265.44 281.34 L266.25 281.93 L267.06 282.52 L267.88 283.10 L268.70 283.67 L269.52 284.25 L270.35 284.82 L271.18 285.38 L272.01 285.94 L272.84 286.50 L273.67 287.06 L274.51 287.61 L275.35 288.17 L276.19 288.71 L277.03 289.26 L277.87 289.81 L278.71 290.35 L279.56 290.89 L280.40 291.43 L281.25 291.96 L282.10 292.50 L282.95 293.03 L283.79 293.56 L284.64 294.10 L285.50 294.63 L286.35 295.16 L287.20 295.69 L288.05 296.22 L288.90 296.74 L289.75 297.27 L290.61 297.80 L291.46 298.33 L292.31 298.86 L293.16 299.39 L294.01 299.92 L294.86 300.45 L295.71 300.98 L296.56 301.51 L297.41 302.05 L298.26 302.58 L299.11 303.12 L299.95 303.66 L300.80 304.20 L301.64 304.74 L302.48 305.28 L303.32 305.83 L304.16 306.38 L305.00 306.93 L305.83 307.48 L306.67 308.04 L307.50 308.60" stroke-width="1.4"/>
<path d="M52.50 379.00 L52.55 378.00 L52.60 377.00 L52.65 376.00 L52.70 375.00 L52.75 374.00 L52.80 373.00 L52.85 372.00 L52.90 371.00 L52.96 370.00 L53.01 369.00 L53.07 368.00 L53.13 367.00 L53.19 366.00 L53.26 365.00 L53.33 364.00 L53.40 363.00 L53.48 362.00 L53.56 361.00 L53.64 360.00 L53.73 359.01 L53.82 358.01 L53.92 357.01 L54.02 356.02 L54.13 355.02 L54.25 354.03 L54.37 353.03 L54.49 352.04 L54.63 351.05 L54.76 350.05 L54.91 349.06 L55.06 348.07 L55.22 347.08 L55.38 346.09 L55.55 345.11 L55.73 344.12 L55.92 343.14 L56.11 342.15 L56.30 341.17 L56.51 340.19 L56.72 339.21 L56.94 338.23 L57.16 337.26 L57.39 336.28 L57.62 335.31 L57.87 334.34 L58.13 333.37 L58.41 332.41 L58.70 331.45 L59.02 330.50 L59.37 329.56 L59.75 328.64 L60.17 327.73 L60.63 326.84 L61.15 325.98 L61.72 325.16 L62.36 324.39 L63.08 323.69 L63.87 323.08 L64.74 322.58 L65.68 322.24 L66.67 322.10 L67.66 322.22 L68.61 322.55 L69.49 323.02 L70.31 323.60 L71.07 324.24 L71.80 324.93 L72.49 325.66 L73.15 326.41 L73.79 327.18 L74.41 327.96 L75.02 328.76 L75.63 329.56 L76.23 330.36 L76.84 331.15 L77.46 331.93 L78.12 332.70 L78.80 333.43 L79.52 334.12 L80.28 334.77 L81.08 335.38 L81.91 335.94 L82.76 336.46 L83.65 336.93 L84.55 337.36 L85.48 337.73 L86.43 338.06 L87.39 338.32 L88.38 338.53 L89.37 338.66 L90.37 338.72 L91.37 338.68 L92.36 338.55 L93.34 338.33 L94.29 338.03 L95.21 337.64 L96.10 337.18 L96.96 336.66 L97.78 336.09 L98.57 335.47 L99.33 334.82 L100.06 334.13 L100.76 333.41 L101.44 332.68 L102.10 331.92 L102.73 331.15 L103.36 330.37 L103.96 329.57 L104.56 328.76 L105.14 327.95 L105.72 327.13 L106.29 326.31 L106.86 325.48 L107.42 324.66 L107.99 323.83 L108.55 323.00 L109.11 322.17 L109.67 321.34 L110.23 320.51 L110.78 319.67 L111.34 318.84 L111.89 318.00 L112.44 317.16 L112.98 316.32 L113.53 315.48 L114.07 314.64 L114.60 313.79 L115.14 312.95 L115.67 312.10 L116.20 311.25 L116.72 310.40 L117.24 309.54 L117.76 308.68 L118.28 307.82 L118.79 306.96 L119.29 306.10 L119.79 305.23 L120.29 304.36 L120.79 303.49 L121.28 302.62 L121.77 301.75 L122.26 300.87 L122.75 299.99 L123.23 299.12 L123.71 298.24 L124.19 297.36 L124.66 296.48 L125.14 295.59 L125.61 294.71 L126.08 293.83 L126.55 292.94 L127.02 292.06 L127.49 291.17 L127.96 290.29 L128.42 289.40 L128.89 288.51 L129.35 287.62 L129.81 286.74 L130.28 285.85 L130.74 284.96 L131.20 284.07 L131.67 283.19 L132.13 282.30 L132.60 281.41 L133.06 280.52 L133.53 279.64 L133.99 278.75 L134.46 277.86 L134.93 276.98 L135.40 276.09 L135.87 275.21 L136.34 274.32 L136.81 273.44 L137.29 272.56 L137.76 271.68 L138.24 270.80 L138.72 269.92 L139.21 269.04 L139.69 268.17 L140.18 267.29 L140.67 266.42 L141.17 265.55 L141.66 264.68 L142.16 263.81 L142.67 262.95 L143.17 262.08 L143.69 261.22 L144.20 260.36 L144.72 259.51 L145.25 258.65 L145.78 257.80 L146.31 256.96 L146.86 256.12 L147.41 255.28 L147.96 254.45 L148.53 253.62 L149.10 252.80 L149.68 251.98 L150.27 251.17 L150.86 250.36 L151.47 249.57 L152.08 248.77 L152.70 247.99 L153.34 247.21 L153.98 246.44 L154.63 245.68 L155.29 244.93 L155.96 244.18 L156.64 243.45 L157.33 242.72 L158.03 242.01 L158.74 241.30 L159.46 240.61 L160.20 239.93 L160.94 239.26 L161.70 238.61 L162.48 237.97 L163.26 237.35 L164.06 236.75 L164.88 236.16 L165.71 235.60 L166.55 235.06 L167.41 234.55 L168.28 234.06 L169.17 233.59 L170.07 233.16 L170.99 232.76 L171.92 232.39 L172.87 232.06 L173.82 231.77 L174.79 231.51 L175.77 231.30 L176.76 231.13 L177.75 231.00 L178.75 230.91 L179.75 230.87 L180.75 230.85 L181.75 230.88 L182.75 230.94 L183.75 231.04 L184.74 231.17 L185.73 231.34 L186.71 231.53 L187.69 231.76 L188.65 232.03 L189.61 232.32 L190.56 232.64 L191.50 233.00 L192.42 233.38 L193.34 233.78 L194.24 234.21 L195.14 234.67 L196.02 235.14 L196.89 235.64 L197.75 236.15 L198.60 236.68 L199.44 237.23 L200.27 237.79 L201.09 238.36 L201.90 238.95 L202.71 239.54 L203.51 240.14 L204.30 240.75 L205.09 241.37 L205.87 242.00 L206.65 242.62 L207.43 243.26 L208.20 243.89 L208.98 244.53 L209.75 245.17 L210.52 245.81 L211.29 246.45 L212.06 247.09 L212.83 247.73 L213.60 248.37 L214.37 249.01 L215.14 249.65 L215.91 250.29 L216.68 250.93 L217.45 251.57 L218.22 252.21 L218.99 252.85 L219.76 253.49 L220.53 254.14 L221.30 254.78 L222.07 255.42 L222.84 256.06 L223.61 256.70 L224.38 257.34 L225.15 257.98 L225.92 258.62 L226.69 259.26 L227.47 259.89 L228.24 260.53 L229.01 261.17 L229.78 261.81 L230.55 262.45 L231.33 263.08 L232.10 263.72 L232.87 264.36 L233.65 264.99 L234.42 265.63 L235.20 266.26 L235.97 266.90 L236.75 267.53 L237.53 268.16 L238.30 268.79 L239.08 269.42 L239.86 270.06 L240.64 270.68 L241.42 271.31 L242.20 271.94 L242.98 272.57 L243.76 273.20 L244.54 273.82 L245.32 274.45 L246.11 275.07 L246.89 275.69 L247.68 276.31 L248.46 276.93 L249.25 277.55 L250.04 278.17 L250.83 278.79 L251.62 279.40 L252.41 280.02 L253.20 280.63 L253.99 281.25 L254.79 281.86 L255.58 282.47 L256.38 283.07 L257.17 283.68 L257.97 284.29 L258.77 284.89 L259.57 285.49 L260.37 286.09 L261.17 286.69 L261.98 287.29 L262.78 287.89 L263.59 288.48 L264.40 289.08 L265.20 289.67 L266.01 290.26 L266.82 290.85 L267.64 291.43 L268.45 292.02 L269.27 292.60 L270.08 293.18 L270.90 293.76 L271.72 294.34 L272.54 294.91 L273.36 295.48 L274.18 296.05 L275.01 296.62 L275.83 297.19 L276.66 297.75 L277.49 298.32 L278.32 298.88 L279.15 299.43 L279.98 299.99 L280.82 300.54 L281.66 301.09 L282.49 301.64 L283.33 302.19 L284.17 302.73 L285.02 303.27 L285.86 303.81 L286.71 304.35 L287.55 304.88 L288.40 305.42 L289.25 305.94 L290.11 306.47 L290.96 306.99 L291.82 307.52 L292.67 308.03 L293.53 308.55 L294.39 309.06 L295.25 309.57 L296.12 310.08 L296.98 310.58 L297.85 311.08 L298.72 311.58 L299.59 312.08 L300.46 312.57 L301.34 313.06 L302.21 313.55 L303.09 314.03 L303.97 314.51 L304.85 314.99 L305.73 315.46 L306.61 315.93 L307.50 316.40" stroke-width="1.3" stroke-dasharray="3.6 1.9"/>
<path d="M52.50 379.00 L52.61 378.00 L52.71 377.01 L52.80 376.01 L52.89 375.01 L52.96 374.01 L53.03 373.01 L53.10 372.01 L53.15 371.01 L53.21 370.01 L53.25 369.01 L53.30 368.01 L53.34 367.00 L53.38 366.00 L53.41 365.00 L53.45 364.00 L53.48 363.00 L53.51 361.99 L53.54 360.99 L53.58 359.99 L53.61 358.99 L53.65 357.99 L53.69 356.99 L53.73 355.98 L53.78 354.98 L53.83 353.98 L53.88 352.98 L53.94 351.98 L54.00 350.98 L54.08 349.98 L54.15 348.98 L54.24 347.98 L54.33 346.98 L54.44 345.99 L54.55 344.99 L54.67 344.00 L54.80 343.00 L54.94 342.01 L55.09 341.02 L55.26 340.03 L55.43 339.04 L55.62 338.06 L55.82 337.08 L56.04 336.10 L56.29 335.13 L56.57 334.17 L56.95 333.24 L57.62 332.56 L58.26 333.27 L58.61 334.21 L58.90 335.17 L59.17 336.14 L59.43 337.11 L59.69 338.07 L59.95 339.04 L60.23 340.00 L60.53 340.96 L60.84 341.91 L61.18 342.86 L61.53 343.79 L61.91 344.72 L62.32 345.64 L62.74 346.55 L63.19 347.44 L63.66 348.33 L64.16 349.20 L64.68 350.06 L65.22 350.90 L65.78 351.73 L66.35 352.56 L66.94 353.37 L67.53 354.17 L68.14 354.97 L68.76 355.76 L69.38 356.54 L70.02 357.32 L70.68 358.08 L71.35 358.82 L72.05 359.53 L72.78 360.22 L73.54 360.88 L74.33 361.50 L75.15 362.07 L76.01 362.58 L76.91 363.03 L77.83 363.41 L78.79 363.71 L79.77 363.93 L80.76 364.07 L81.76 364.15 L82.76 364.14 L83.76 364.07 L84.75 363.91 L85.73 363.68 L86.68 363.37 L87.61 363.00 L88.51 362.56 L89.38 362.06 L90.22 361.52 L91.03 360.93 L91.81 360.30 L92.57 359.64 L93.30 358.95 L94.00 358.24 L94.68 357.50 L95.34 356.75 L95.99 355.98 L96.62 355.20 L97.23 354.41 L97.84 353.61 L98.43 352.80 L99.02 351.99 L99.60 351.17 L100.16 350.34 L100.72 349.51 L101.27 348.67 L101.81 347.83 L102.34 346.98 L102.87 346.12 L103.39 345.27 L103.89 344.40 L104.40 343.54 L104.89 342.66 L105.38 341.79 L105.86 340.91 L106.34 340.03 L106.81 339.14 L107.28 338.26 L107.74 337.37 L108.19 336.47 L108.64 335.58 L109.09 334.68 L109.54 333.78 L109.98 332.88 L110.42 331.98 L110.85 331.08 L111.29 330.18 L111.72 329.27 L112.15 328.37 L112.58 327.46 L113.01 326.56 L113.44 325.65 L113.87 324.74 L114.30 323.84 L114.73 322.93 L115.16 322.03 L115.58 321.12 L116.01 320.21 L116.44 319.31 L116.87 318.40 L117.29 317.49 L117.72 316.58 L118.15 315.68 L118.57 314.77 L119.00 313.86 L119.43 312.96 L119.85 312.05 L120.28 311.14 L120.71 310.24 L121.13 309.33 L121.56 308.42 L121.99 307.52 L122.42 306.61 L122.84 305.70 L123.27 304.80 L123.70 303.89 L124.13 302.98 L124.56 302.08 L124.99 301.17 L125.42 300.27 L125.85 299.36 L126.28 298.46 L126.71 297.55 L127.14 296.65 L127.58 295.74 L128.01 294.84 L128.44 293.93 L128.88 293.03 L129.31 292.13 L129.75 291.23 L130.19 290.32 L130.62 289.42 L131.06 288.52 L131.50 287.62 L131.94 286.72 L132.38 285.82 L132.82 284.92 L133.27 284.02 L133.71 283.12 L134.16 282.22 L134.60 281.32 L135.05 280.43 L135.50 279.53 L135.95 278.64 L136.40 277.74 L136.85 276.85 L137.30 275.95 L137.76 275.06 L138.22 274.17 L138.68 273.28 L139.14 272.39 L139.60 271.50 L140.07 270.61 L140.54 269.73 L141.01 268.84 L141.49 267.96 L141.97 267.08 L142.45 266.20 L142.94 265.32 L143.43 264.45 L143.92 263.58 L144.42 262.71 L144.92 261.84 L145.43 260.98 L145.94 260.11 L146.46 259.25 L146.98 258.40 L147.50 257.54 L148.03 256.69 L148.57 255.85 L149.11 255.00 L149.65 254.16 L150.21 253.32 L150.76 252.49 L151.33 251.66 L151.90 250.84 L152.47 250.02 L153.06 249.20 L153.65 248.39 L154.25 247.59 L154.86 246.79 L155.48 246.01 L156.11 245.23 L156.75 244.46 L157.40 243.70 L158.07 242.95 L158.75 242.22 L159.45 241.50 L160.16 240.79 L160.89 240.10 L161.64 239.43 L162.40 238.78 L163.17 238.15 L163.97 237.53 L164.78 236.95 L165.61 236.38 L166.46 235.85 L167.32 235.33 L168.20 234.85 L169.09 234.40 L170.00 233.97 L170.92 233.58 L171.85 233.21 L172.80 232.88 L173.75 232.58 L174.72 232.30 L175.69 232.07 L176.67 231.86 L177.66 231.69 L178.66 231.56 L179.65 231.47 L180.65 231.41 L181.66 231.40 L182.66 231.43 L183.66 231.51 L184.65 231.64 L185.64 231.81 L186.62 232.04 L187.58 232.31 L188.53 232.62 L189.47 232.97 L190.40 233.35 L191.31 233.76 L192.21 234.20 L193.10 234.67 L193.98 235.16 L194.84 235.66 L195.70 236.18 L196.55 236.71 L197.39 237.25 L198.23 237.80 L199.07 238.36 L199.90 238.92 L200.73 239.48 L201.55 240.05 L202.37 240.62 L203.19 241.20 L204.01 241.78 L204.83 242.36 L205.64 242.95 L206.45 243.54 L207.26 244.13 L208.06 244.73 L208.87 245.33 L209.67 245.93 L210.47 246.54 L211.26 247.15 L212.06 247.76 L212.85 248.37 L213.64 248.99 L214.43 249.61 L215.21 250.23 L216.00 250.85 L216.78 251.48 L217.56 252.11 L218.34 252.74 L219.12 253.37 L219.90 254.00 L220.67 254.64 L221.45 255.27 L222.22 255.91 L222.99 256.55 L223.76 257.19 L224.53 257.83 L225.30 258.48 L226.07 259.12 L226.84 259.77 L227.60 260.41 L228.37 261.06 L229.14 261.71 L229.90 262.36 L230.66 263.00 L231.43 263.65 L232.19 264.30 L232.96 264.95 L233.72 265.60 L234.48 266.25 L235.25 266.90 L236.01 267.55 L236.77 268.20 L237.54 268.85 L238.30 269.50 L239.07 270.15 L239.83 270.79 L240.60 271.44 L241.36 272.09 L242.13 272.73 L242.90 273.38 L243.67 274.02 L244.44 274.66 L245.21 275.30 L245.98 275.94 L246.75 276.58 L247.53 277.22 L248.30 277.85 L249.08 278.48 L249.86 279.11 L250.64 279.74 L251.42 280.37 L252.20 281.00 L252.99 281.62 L253.78 282.24 L254.56 282.86 L255.36 283.48 L256.15 284.09 L256.94 284.70 L257.74 285.31 L258.54 285.91 L259.34 286.52 L260.14 287.12 L260.95 287.71 L261.76 288.30 L262.57 288.89 L263.38 289.48 L264.20 290.07 L265.01 290.65 L265.83 291.22 L266.65 291.80 L267.47 292.37 L268.30 292.94 L269.13 293.51 L269.95 294.08 L270.78 294.64 L271.62 295.20 L272.45 295.75 L273.28 296.31 L274.12 296.86 L274.96 297.41 L275.80 297.96 L276.64 298.51 L277.48 299.05 L278.32 299.59 L279.17 300.13 L280.01 300.67 L280.86 301.21 L281.71 301.74 L282.56 302.27 L283.41 302.80 L284.26 303.33 L285.11 303.86 L285.96 304.39 L286.82 304.91 L287.67 305.44 L288.53 305.96 L289.39 306.48 L290.24 307.00 L291.10 307.51 L291.96 308.03 L292.82 308.55 L293.68 309.06 L294.54 309.58 L295.40 310.09 L296.26 310.60 L297.13 311.11 L297.99 311.62 L298.85 312.13 L299.72 312.64 L300.58 313.15 L301.44 313.66 L302.31 314.16 L303.17 314.67 L304.04 315.18 L304.90 315.68 L305.77 316.19 L306.63 316.69 L307.50 317.20" stroke-width="1.3" stroke-dasharray="5 1.5 1.5 1.5"/>
<path d="M52.50 379.00 L52.70 378.02 L52.88 377.03 L53.02 376.04 L53.14 375.05 L53.24 374.05 L53.31 373.05 L53.37 372.05 L53.41 371.05 L53.44 370.05 L53.47 369.05 L53.49 368.05 L53.52 367.04 L53.55 366.04 L53.59 365.04 L53.65 364.04 L53.72 363.04 L53.82 362.05 L53.94 361.05 L54.08 360.06 L54.25 359.07 L54.45 358.09 L54.68 357.12 L54.94 356.15 L55.24 355.19 L55.57 354.25 L55.95 353.32 L56.38 352.42 L56.88 351.55 L57.46 350.73 L58.13 349.99 L58.91 349.36 L59.78 348.87 L60.73 348.54 L61.72 348.42 L62.71 348.50 L63.67 348.80 L64.53 349.30 L65.30 349.94 L65.99 350.67 L66.64 351.43 L67.27 352.21 L67.89 352.99 L68.54 353.76 L69.20 354.51 L69.90 355.23 L70.61 355.93 L71.35 356.61 L72.11 357.26 L72.90 357.88 L73.71 358.47 L74.55 359.02 L75.41 359.53 L76.30 359.99 L77.21 360.40 L78.15 360.75 L79.11 361.04 L80.09 361.24 L81.09 361.36 L82.09 361.38 L83.08 361.29 L84.07 361.09 L85.02 360.80 L85.95 360.43 L86.86 360.00 L87.73 359.51 L88.59 358.98 L89.42 358.43 L90.23 357.84 L91.03 357.24 L91.82 356.62 L92.59 355.98 L93.35 355.32 L94.09 354.65 L94.82 353.97 L95.53 353.26 L96.23 352.55 L96.92 351.82 L97.59 351.07 L98.25 350.32 L98.89 349.55 L99.52 348.77 L100.13 347.98 L100.73 347.18 L101.32 346.37 L101.90 345.55 L102.46 344.72 L103.01 343.88 L103.55 343.04 L104.08 342.18 L104.59 341.33 L105.10 340.46 L105.60 339.59 L106.08 338.72 L106.56 337.84 L107.03 336.95 L107.49 336.06 L107.94 335.17 L108.39 334.27 L108.83 333.37 L109.26 332.47 L109.69 331.56 L110.11 330.65 L110.53 329.74 L110.94 328.83 L111.35 327.91 L111.76 327.00 L112.16 326.08 L112.56 325.16 L112.96 324.24 L113.36 323.32 L113.75 322.40 L114.15 321.48 L114.54 320.56 L114.94 319.64 L115.33 318.72 L115.73 317.80 L116.13 316.89 L116.53 315.97 L116.94 315.05 L117.34 314.14 L117.75 313.22 L118.16 312.31 L118.57 311.39 L118.98 310.48 L119.40 309.57 L119.81 308.66 L120.23 307.75 L120.65 306.84 L121.08 305.93 L121.50 305.02 L121.93 304.12 L122.36 303.21 L122.79 302.31 L123.22 301.40 L123.66 300.50 L124.09 299.60 L124.53 298.70 L124.97 297.80 L125.42 296.90 L125.86 296.01 L126.31 295.11 L126.76 294.21 L127.21 293.32 L127.67 292.43 L128.13 291.54 L128.58 290.65 L129.05 289.76 L129.51 288.87 L129.98 287.98 L130.44 287.10 L130.91 286.21 L131.39 285.33 L131.86 284.45 L132.34 283.57 L132.82 282.69 L133.30 281.81 L133.78 280.93 L134.27 280.05 L134.76 279.18 L135.25 278.31 L135.74 277.44 L136.24 276.56 L136.74 275.70 L137.24 274.83 L137.74 273.96 L138.24 273.10 L138.75 272.23 L139.26 271.37 L139.77 270.51 L140.29 269.65 L140.81 268.79 L141.32 267.94 L141.84 267.08 L142.36 266.22 L142.89 265.37 L143.41 264.51 L143.93 263.65 L144.44 262.80 L144.96 261.94 L145.48 261.08 L145.99 260.22 L146.50 259.36 L147.01 258.49 L147.51 257.63 L148.01 256.76 L148.50 255.89 L148.99 255.01 L149.47 254.13 L149.95 253.25 L150.42 252.37 L150.88 251.48 L151.34 250.59 L151.80 249.70 L152.26 248.81 L152.73 247.92 L153.20 247.04 L153.69 246.17 L154.19 245.30 L154.71 244.45 L155.26 243.61 L155.83 242.78 L156.43 241.98 L157.07 241.21 L157.74 240.47 L158.45 239.76 L159.20 239.09 L159.98 238.46 L160.78 237.86 L161.61 237.30 L162.45 236.76 L163.31 236.24 L164.17 235.74 L165.05 235.25 L165.93 234.77 L166.81 234.29 L167.69 233.82 L168.57 233.34 L169.45 232.86 L170.33 232.37 L171.20 231.89 L172.09 231.42 L172.99 230.98 L173.90 230.57 L174.84 230.22 L175.80 229.92 L176.77 229.69 L177.76 229.52 L178.75 229.41 L179.75 229.36 L180.76 229.36 L181.76 229.41 L182.75 229.51 L183.74 229.65 L184.73 229.83 L185.71 230.05 L186.68 230.30 L187.64 230.58 L188.59 230.89 L189.54 231.22 L190.47 231.58 L191.40 231.97 L192.31 232.37 L193.22 232.80 L194.11 233.25 L195.00 233.71 L195.88 234.20 L196.75 234.70 L197.60 235.21 L198.45 235.74 L199.29 236.29 L200.13 236.84 L200.95 237.41 L201.77 237.99 L202.58 238.58 L203.39 239.17 L204.19 239.78 L204.98 240.39 L205.77 241.00 L206.56 241.62 L207.34 242.25 L208.12 242.87 L208.90 243.50 L209.68 244.13 L210.46 244.77 L211.23 245.40 L212.01 246.03 L212.79 246.66 L213.56 247.30 L214.34 247.93 L215.11 248.57 L215.89 249.20 L216.66 249.84 L217.44 250.47 L218.21 251.11 L218.98 251.74 L219.76 252.38 L220.53 253.02 L221.31 253.65 L222.08 254.29 L222.85 254.93 L223.63 255.57 L224.40 256.20 L225.17 256.84 L225.94 257.48 L226.72 258.11 L227.49 258.75 L228.26 259.39 L229.04 260.02 L229.81 260.66 L230.59 261.29 L231.36 261.93 L232.13 262.57 L232.91 263.20 L233.68 263.84 L234.46 264.47 L235.24 265.10 L236.01 265.74 L236.79 266.37 L237.56 267.00 L238.34 267.63 L239.12 268.27 L239.90 268.90 L240.68 269.53 L241.46 270.16 L242.24 270.79 L243.02 271.41 L243.80 272.04 L244.58 272.67 L245.36 273.29 L246.14 273.92 L246.93 274.54 L247.71 275.16 L248.50 275.79 L249.28 276.41 L250.07 277.03 L250.86 277.65 L251.65 278.26 L252.44 278.88 L253.23 279.50 L254.02 280.11 L254.81 280.72 L255.60 281.34 L256.40 281.95 L257.19 282.56 L257.99 283.16 L258.79 283.77 L259.58 284.37 L260.38 284.98 L261.18 285.58 L261.99 286.18 L262.79 286.78 L263.59 287.38 L264.40 287.97 L265.21 288.57 L266.01 289.16 L266.82 289.75 L267.63 290.34 L268.44 290.92 L269.26 291.51 L270.07 292.09 L270.89 292.67 L271.71 293.25 L272.52 293.83 L273.34 294.40 L274.17 294.98 L274.99 295.55 L275.81 296.12 L276.64 296.68 L277.47 297.25 L278.30 297.81 L279.13 298.37 L279.96 298.93 L280.79 299.48 L281.63 300.03 L282.47 300.58 L283.31 301.13 L284.15 301.68 L284.99 302.22 L285.83 302.76 L286.68 303.30 L287.53 303.83 L288.37 304.36 L289.22 304.89 L290.08 305.42 L290.93 305.94 L291.79 306.46 L292.64 306.98 L293.50 307.50 L294.36 308.01 L295.23 308.52 L296.09 309.02 L296.96 309.52 L297.83 310.02 L298.70 310.52 L299.57 311.01 L300.44 311.50 L301.32 311.99 L302.20 312.47 L303.08 312.95 L303.96 313.43 L304.84 313.90 L305.72 314.37 L306.61 314.84 L307.50 315.30" stroke-width="1.1" stroke-dasharray="2.2 0.8"/>
<path d="M52.50 379.00 L52.78 378.04 L53.01 377.06 L53.19 376.08 L53.33 375.08 L53.44 374.09 L53.54 373.09 L53.62 372.09 L53.70 371.09 L53.78 370.10 L53.88 369.10 L53.98 368.10 L54.11 367.11 L54.27 366.12 L54.46 365.13 L54.69 364.16 L54.97 363.20 L55.31 362.25 L55.70 361.33 L56.16 360.44 L56.68 359.59 L57.27 358.78 L57.95 358.04 L58.79 357.50 L59.75 357.60 L60.45 358.30 L60.96 359.16 L61.39 360.07 L61.78 360.99 L62.15 361.93 L62.51 362.86 L62.89 363.79 L63.28 364.71 L63.70 365.62 L64.15 366.51 L64.65 367.39 L65.19 368.23 L65.79 369.03 L66.47 369.77 L67.22 370.42 L68.06 370.98 L68.96 371.41 L69.92 371.70 L70.91 371.88 L71.90 371.97 L72.91 371.98 L73.91 371.95 L74.91 371.87 L75.90 371.76 L76.89 371.61 L77.88 371.43 L78.86 371.22 L79.83 370.97 L80.79 370.69 L81.74 370.37 L82.68 370.02 L83.60 369.63 L84.51 369.21 L85.40 368.75 L86.28 368.26 L87.13 367.74 L87.97 367.19 L88.79 366.61 L89.59 366.00 L90.36 365.37 L91.12 364.71 L91.86 364.04 L92.57 363.34 L93.27 362.62 L93.95 361.88 L94.61 361.13 L95.25 360.36 L95.88 359.57 L96.49 358.78 L97.08 357.97 L97.66 357.15 L98.23 356.33 L98.78 355.49 L99.32 354.65 L99.85 353.80 L100.37 352.94 L100.88 352.07 L101.38 351.21 L101.87 350.33 L102.35 349.45 L102.83 348.57 L103.29 347.69 L103.76 346.80 L104.22 345.91 L104.67 345.02 L105.13 344.12 L105.57 343.22 L106.02 342.33 L106.47 341.43 L106.91 340.53 L107.35 339.63 L107.79 338.73 L108.23 337.83 L108.66 336.93 L109.10 336.02 L109.53 335.12 L109.97 334.22 L110.40 333.31 L110.83 332.41 L111.25 331.50 L111.68 330.59 L112.11 329.69 L112.53 328.78 L112.96 327.87 L113.38 326.96 L113.80 326.06 L114.23 325.15 L114.65 324.24 L115.07 323.33 L115.49 322.42 L115.91 321.51 L116.32 320.60 L116.74 319.69 L117.16 318.78 L117.58 317.86 L118.00 316.95 L118.41 316.04 L118.83 315.13 L119.25 314.22 L119.66 313.31 L120.08 312.40 L120.50 311.49 L120.91 310.57 L121.33 309.66 L121.75 308.75 L122.17 307.84 L122.59 306.93 L123.01 306.02 L123.43 305.11 L123.85 304.20 L124.27 303.29 L124.69 302.38 L125.11 301.48 L125.54 300.57 L125.96 299.66 L126.39 298.75 L126.81 297.85 L127.24 296.94 L127.67 296.03 L128.10 295.13 L128.53 294.23 L128.97 293.32 L129.40 292.42 L129.84 291.52 L130.28 290.62 L130.72 289.71 L131.16 288.82 L131.60 287.92 L132.05 287.02 L132.49 286.12 L132.94 285.23 L133.39 284.33 L133.85 283.44 L134.30 282.54 L134.76 281.65 L135.22 280.76 L135.68 279.87 L136.15 278.99 L136.61 278.10 L137.08 277.21 L137.56 276.33 L138.03 275.45 L138.51 274.57 L138.99 273.69 L139.47 272.81 L139.96 271.93 L140.45 271.06 L140.94 270.19 L141.44 269.32 L141.94 268.45 L142.44 267.58 L142.94 266.71 L143.45 265.85 L143.96 264.99 L144.48 264.13 L145.00 263.27 L145.52 262.42 L146.05 261.56 L146.58 260.71 L147.11 259.87 L147.65 259.02 L148.19 258.18 L148.73 257.33 L149.28 256.50 L149.83 255.66 L150.39 254.83 L150.95 253.99 L151.51 253.17 L152.08 252.34 L152.65 251.52 L153.23 250.70 L153.81 249.88 L154.39 249.07 L154.98 248.26 L155.58 247.45 L156.17 246.64 L156.78 245.84 L157.38 245.05 L157.99 244.25 L158.61 243.46 L159.23 242.67 L159.85 241.89 L160.48 241.11 L161.11 240.33 L161.75 239.55 L162.39 238.78 L163.03 238.02 L163.68 237.25 L164.34 236.50 L165.00 235.74 L165.66 234.99 L166.33 234.24 L167.00 233.50" stroke-width="1.35" stroke-dasharray="1.3 1.9"/>
</g>
<g font-family="'Liberation Serif', serif" font-size="9.6" font-style="italic" fill="#1c1c1c" stroke="#1c1c1c" stroke-width="0.25">
<text x="59.8" y="42.1">3</text>
<text x="92.7" y="52.2">4</text>
<text x="67.6" y="74.5">1</text>
<text x="62.3" y="87.6">2</text>
<text x="64.4" y="319.6">3</text>
<text x="64" y="342.3">1</text>
<text x="79.7" y="359.7">4</text>
<text x="60" y="375">2</text>
</g>
</svg>
</body></html>
